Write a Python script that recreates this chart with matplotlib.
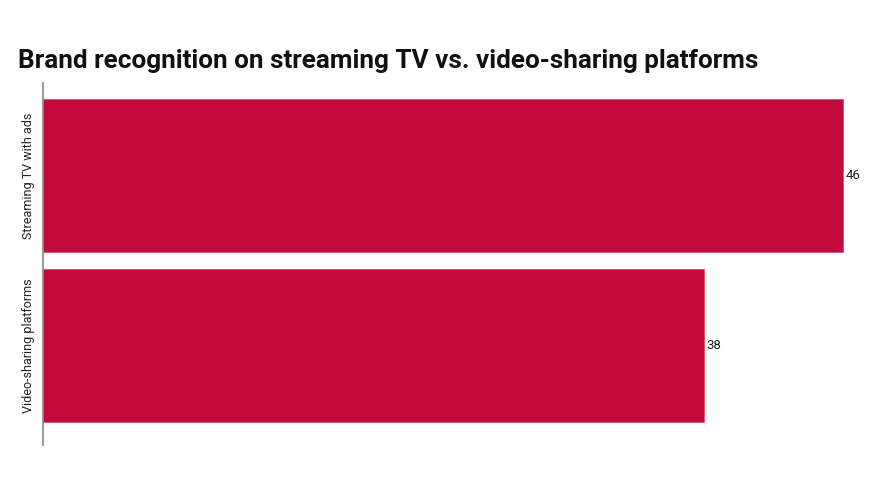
import matplotlib.pyplot as plt

categories = ["Streaming TV with ads", "Video-sharing platforms"]
values = [46, 38]

plt.rcParams["font.family"] = ["Roboto", "DejaVu Sans"]

fig = plt.figure(figsize=(8.9, 5.01), dpi=100)
ax = fig.add_axes([43 / 890, 1 - 445 / 501, 827 / 890, 362 / 501])

ax.barh(range(len(values)), values, height=0.9, color="#c1093c", edgecolor="#d9506f", linewidth=0.6)
for i, v in enumerate(values):
    ax.text(v + 0.15, i, str(v), va="center", ha="left", fontsize=9.5, color="#222222")

ax.set_xlim(0, 47.55)
ax.set_ylim(1.585, -0.545)
ax.set_yticks(range(len(categories)))
ax.set_yticklabels(categories, rotation=90, va="center", fontsize=9, color="#222222")
ax.tick_params(axis="y", length=0, pad=6)
ax.set_xticks([])
for s in ["top", "right", "bottom"]:
    ax.spines[s].set_visible(False)
ax.spines["left"].set_color("#888888")
ax.spines["left"].set_linewidth(1.2)

fig.text(18 / 890, 1 - 68 / 501, "Brand recognition on streaming TV vs. video-sharing platforms",
         fontsize=18.8, fontweight="bold", color="#111111", ha="left", va="baseline")

fig.savefig("out.png", dpi=100)
